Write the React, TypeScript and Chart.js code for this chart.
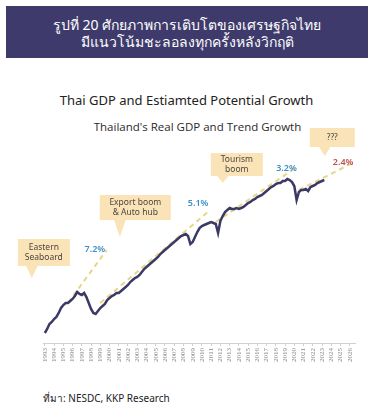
import React, { useEffect, useRef } from "react";
import { Chart, registerables } from "chart.js";

Chart.register(...registerables);

// ---- data ----
const headerLines = ["รูปที่ 20 ศักยภาพการเติบโตของเศรษฐกิจไทย", "มีแนวโน้มชะลอลงทุกครั้งหลังวิกฤติ"];
const chartTitle = "Thai GDP and Estiamted Potential Growth";
const chartSubtitle = "Thailand's Real GDP and Trend Growth";
const sourceText = "ที่มา: NESDC, KKP Research";

const yearLabels = [
  "1993", "1994", "1995", "1996", "1997", "1998", "1999", "2000", "2001", "2002",
  "2003", "2004", "2005", "2006", "2007", "2008", "2009", "2010", "2011", "2012",
  "2013", "2014", "2015", "2016", "2017", "2018", "2019", "2020", "2021", "2022",
  "2023", "2024", "2025", "2026",
];

const gdpStartYear = 1993;
// quarterly real GDP level (index), 1993Q1 ...
const gdpQuarterly = [
  10, 14, 19, 21,
  24, 26, 30, 35,
  38, 40, 40, 42,
  44, 47, 51, 49,
  48, 50, 46, 40,
  34, 30, 29, 32,
  35, 37, 39, 43,
  45, 47, 48, 50,
  50, 52, 54, 56,
  58, 61, 63, 65,
  66, 68, 71, 74,
  76, 78, 80, 82,
  84, 86, 89, 91,
  93, 95, 97, 99,
  101, 103, 105, 107,
  108, 109, 107, 99,
  101, 106, 111, 115,
  117, 118, 119, 120,
  121, 120, 119, 110,
  122, 127, 131, 133,
  135, 134, 134, 135,
  134, 135, 136, 138,
  140, 141, 143, 144,
  146, 147, 148, 150,
  152, 154, 156, 157,
  159, 160, 160, 162,
  162, 164, 163, 161,
  157, 143, 151, 153,
  153, 154, 152, 156,
  157, 158, 160, 161,
  162, 163,
];

// trend segments (start/end year and level)
const trend72Years = [1995.5, 1999.7];
const trend72Values = [40, 93];
const trend51Years = [1999.0, 2010.9];
const trend51Values = [40, 133];
const trend32Years = [2011.5, 2020.1];
const trend32Values = [121, 175];
const trend24Years = [2020.5, 2026.3];
const trend24Values = [153, 180];

const rateLabels = ["7.2%", "5.1%", "3.2%", "2.4%"];
const rateYears = [1998.41, 2009.59, 2019.16, 2025.28];
const rateLevels = [94, 140, 175, 181];

const calloutTexts = [["Eastern", "Seaboard"], ["Export boom", "& Auto hub"], ["Tourism", "boom"], ["???"]];
const calloutYears = [1992.89, 2002.79, 2013.78, 2024.11];
const calloutLevels = [90.5, 135.5, 178.5, 205.5];
const calloutTipYears = [1991.59, 2001.12, 2012.26, 2023.3];
const calloutTipLevels = [65, 106, 160, 187];

// ---- styles ----
const calloutSizes = [
  [52, 27],
  [71, 25],
  [52, 23],
  [45, 19],
];
const rateColors = ["#3F8FC6", "#3F8FC6", "#3F8FC6", "#C0504D"];
const FONT = "'Noto Sans', 'DejaVu Sans', sans-serif";

const toPoints = (xs: number[], ys: number[]) => xs.map((x, i) => ({ x, y: ys[i] }));

const annotationPlugin = {
  id: "callouts",
  afterDatasetsDraw(chart: any) {
    const { ctx, scales } = chart;
    const sx = scales.x;
    const sy = scales.y;
    ctx.save();
    calloutTexts.forEach((lines, i) => {
      const cx = sx.getPixelForValue(calloutYears[i]);
      const cy = sy.getPixelForValue(calloutLevels[i]);
      const [w, h] = calloutSizes[i];
      const tx = sx.getPixelForValue(calloutTipYears[i]);
      const ty = sy.getPixelForValue(calloutTipLevels[i]);
      ctx.fillStyle = "#FBE3B8";
      ctx.fillRect(cx - w / 2, cy - h / 2, w, h);
      ctx.beginPath();
      ctx.moveTo(tx - 6, cy + h / 2 - 0.5);
      ctx.lineTo(tx + 6, cy + h / 2 - 0.5);
      ctx.lineTo(tx, ty);
      ctx.closePath();
      ctx.fill();
      ctx.fillStyle = "#4A4640";
      ctx.font = `8.5px ${FONT}`;
      ctx.textAlign = "center";
      ctx.textBaseline = "middle";
      const lh = 9.5;
      lines.forEach((t, j) => {
        ctx.fillText(t, cx, cy + (j - (lines.length - 1) / 2) * lh);
      });
    });
    rateLabels.forEach((t, i) => {
      ctx.fillStyle = rateColors[i];
      ctx.font = `600 9px ${FONT}`;
      ctx.textAlign = "center";
      ctx.textBaseline = "middle";
      ctx.fillText(t, sx.getPixelForValue(rateYears[i]), sy.getPixelForValue(rateLevels[i]));
    });
    ctx.restore();
  },
};

export default function App() {
  const ref = useRef<HTMLCanvasElement | null>(null);

  useEffect(() => {
    if (!ref.current) return;
    const gdpPoints = gdpQuarterly.map((v, i) => ({ x: gdpStartYear + i / 4, y: v }));
    const dashStyle = {
      borderColor: "#E8D588",
      borderWidth: 2,
      borderDash: [5, 4],
      pointRadius: 0,
      fill: false,
      tension: 0,
    };
    const chart = new Chart(ref.current, {
      type: "line",
      data: {
        datasets: [
          { label: "GDP", data: gdpPoints, borderColor: "#3B3A66", borderWidth: 2.5, pointRadius: 0, tension: 0, order: 0 },
          { label: "7.2%", data: toPoints(trend72Years, trend72Values), ...dashStyle, order: 1 },
          { label: "5.1%", data: toPoints(trend51Years, trend51Values), ...dashStyle, order: 1 },
          { label: "3.2%", data: toPoints(trend32Years, trend32Values), ...dashStyle, order: 1 },
          { label: "2.4%", data: toPoints(trend24Years, trend24Values), ...dashStyle, order: 1 },
        ],
      },
      options: {
        responsive: false,
        animation: false,
        devicePixelRatio: 1,
        layout: { padding: { top: 93, left: 43, right: 22, bottom: 47 } },
        plugins: { legend: { display: false }, tooltip: { enabled: false } },
        scales: {
          x: {
            type: "linear",
            min: 1992.8,
            max: 2026.57,
            afterBuildTicks: (scale: any) => {
              scale.ticks = yearLabels.map((y) => ({ value: Number(y) }));
            },
            afterFit: (scale: any) => {
              scale.height = 30;
            },
            grid: { drawOnChartArea: false, drawTicks: true, tickLength: 3, color: "#D0D0D0" },
            border: { display: true, color: "#D0D0D0" },
            ticks: {
              autoSkip: false,
              minRotation: 90,
              maxRotation: 90,
              padding: 2,
              color: "#8A8A8A",
              font: { size: 7, family: "'Liberation Serif', serif" },
              callback: (v: any) => String(v),
            },
          },
          y: { display: false, min: 0, max: 250 },
        },
      },
      plugins: [annotationPlugin],
    });
    return () => chart.destroy();
  }, []);

  return (
    <div style={{ position: "fixed", left: 0, top: 0, width: 377, height: 420, background: "#fff", overflow: "hidden", fontFamily: FONT }}>
      <div
        style={{
          position: "absolute", left: 6, top: 6, width: 362, height: 52, background: "#3E3A6B",
          color: "#fff", fontSize: 14, lineHeight: "17px", textAlign: "center", paddingTop: 9.5, boxSizing: "border-box",
        }}
      >
        {headerLines.map((l) => (<div key={l}>{l}</div>))}
      </div>
      <div style={{ position: "absolute", left: 0, top: 92, width: 373, textAlign: "center", fontSize: 13, lineHeight: "16px", color: "#222" }}>
        {chartTitle}
      </div>
      <div style={{ position: "absolute", left: 20, top: 120, width: 355, textAlign: "center", fontSize: 11.5, lineHeight: "14px", color: "#2a2a2a", fontWeight: 500, fontFamily: "'Open Sans', 'Noto Sans', sans-serif" }}>
        {chartSubtitle}
      </div>
      <div style={{ position: "absolute", left: 43, top: 392, fontSize: 10, lineHeight: "12px", color: "#222" }}>
        {sourceText}
      </div>
      <canvas ref={ref} width={377} height={420} style={{ position: "absolute", left: 0, top: 0 }} />
    </div>
  );
}
